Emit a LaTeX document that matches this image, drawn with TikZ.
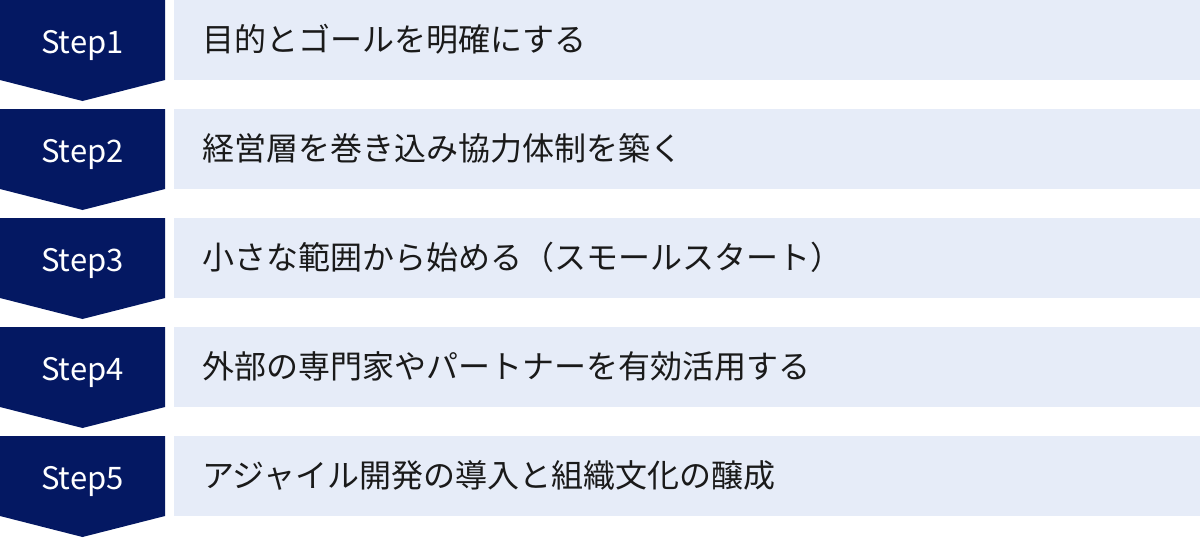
\documentclass[tikz,border=0pt]{standalone}
\usepackage{fontspec}
\setmainfont{Noto Sans CJK JP}
\definecolor{navy}{HTML}{041862}
\definecolor{paleblue}{HTML}{E6ECF8}
\definecolor{ink}{HTML}{1A1A1A}
\begin{document}
\begin{tikzpicture}[x=1pt,y=-1pt,
  chev/.style={fill=navy,draw=none},
  barbox/.style={fill=paleblue,draw=none},
  steplabel/.style={text=white,font=\fontsize{31}{34}\selectfont,anchor=base,inner sep=0pt},
  barlabel/.style={text=ink,font=\fontsize{32}{36}\selectfont,anchor=base west,inner sep=0pt}]
\useasboundingbox (0,0) rectangle (1200,538);
\foreach \i/\t in {1/目的とゴールを明確にする,
                   2/経営層を巻き込み協力体制を築く,
                   3/小さな範囲から始める（スモールスタート）,
                   4/外部の専門家やパートナーを有効活用する,
                   5/アジャイル開発の導入と組織文化の醸成}{
  \pgfmathsetmacro{\yy}{(\i-1)*109}
  \fill[chev] (0,\yy) -- (165,\yy) -- (165,\yy+80) -- (82.5,\yy+101) -- (0,\yy+80) -- cycle;
  \fill[barbox] (174,\yy) rectangle (1200,\yy+80);
  \node[steplabel] (s\i) at (82.5,\yy+53) {Step\i};
  \node[barlabel] (t\i) at (202,\yy+51) {\t};
}
\end{tikzpicture}
\end{document}
